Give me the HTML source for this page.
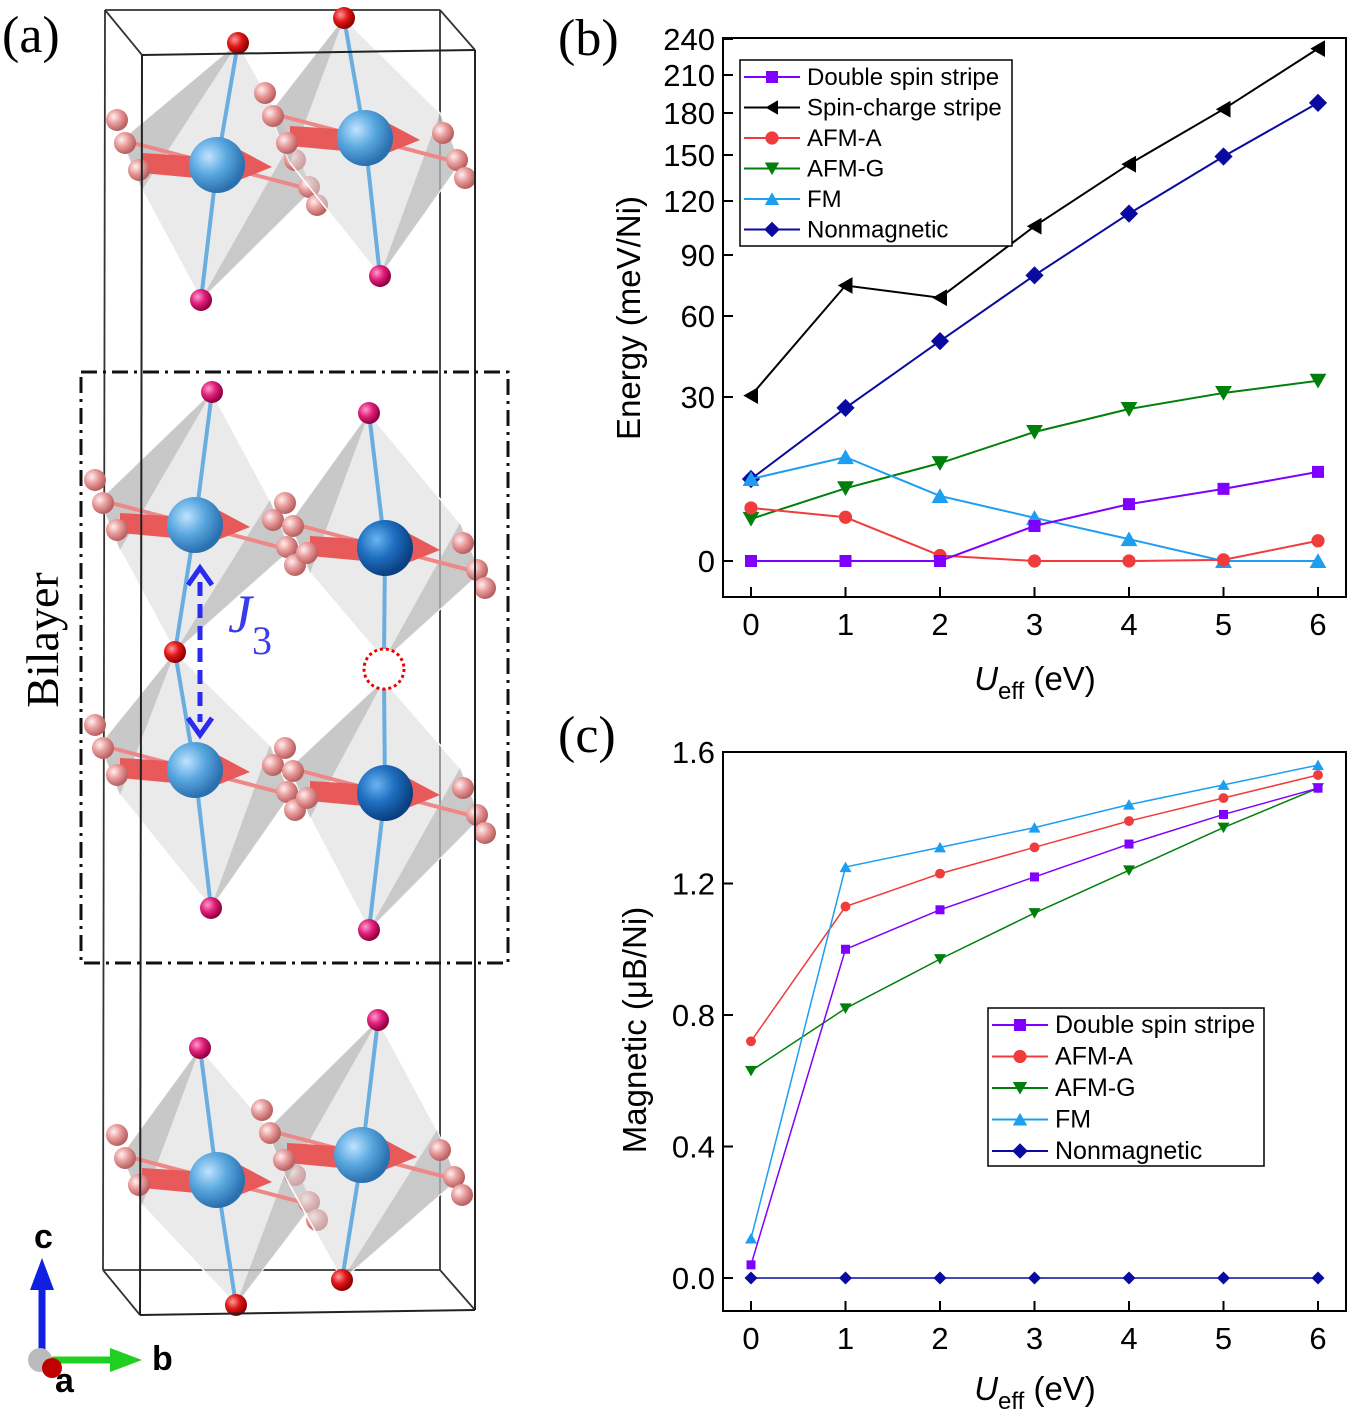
<!DOCTYPE html>
<html><head><meta charset="utf-8">
<style>
html,body{margin:0;padding:0;background:#fff;}
svg{display:block;font-family:"Liberation Sans",Arial,sans-serif;}
</style></head>
<body>
<svg id="fig" width="1348" height="1411" viewBox="0 0 1348 1411" xmlns="http://www.w3.org/2000/svg">
<defs>
<radialGradient id="blueBall" cx="35%" cy="35%" r="65%"><stop offset="0" stop-color="#bfe3ff"/><stop offset="0.5" stop-color="#5aa8e0"/><stop offset="1" stop-color="#2a6fae"/></radialGradient>
<radialGradient id="darkBall" cx="35%" cy="35%" r="65%"><stop offset="0" stop-color="#6ab4f0"/><stop offset="0.5" stop-color="#1f6fc0"/><stop offset="1" stop-color="#0b3f80"/></radialGradient>
<radialGradient id="pinkBall" cx="35%" cy="35%" r="65%"><stop offset="0" stop-color="#fff0f0"/><stop offset="0.5" stop-color="#e89a9a"/><stop offset="1" stop-color="#b86060"/></radialGradient>
<radialGradient id="magBall" cx="35%" cy="35%" r="65%"><stop offset="0" stop-color="#ff9ad0"/><stop offset="0.5" stop-color="#e0207a"/><stop offset="1" stop-color="#900040"/></radialGradient>
<radialGradient id="redBall" cx="35%" cy="35%" r="65%"><stop offset="0" stop-color="#ff9a9a"/><stop offset="0.5" stop-color="#e01818"/><stop offset="1" stop-color="#900000"/></radialGradient>
</defs>
<g id="panelA"></g>
<g id="panelB"></g>
<g id="panelC"></g>
</svg>
<script>
// ===== Chart data =====
const xCats = [0,1,2,3,4,5,6];
const energyYTicks = [0,30,60,90,120,150,180,210,240];
const energyDSS = [0,0,0,6.4,10.4,13.2,16.3];
const energySCS = [30.5,75,69,106,144,183,232];
const energyAFMA = [9.7,8,1,0,0,0.2,3.7];
const energyAFMG = [7.7,13.3,17.9,23.6,27.8,31.5,36];
const energyFM = [15,19,11.9,7.9,4,0,0];
const energyNM = [15,28,50.7,80,113,149,188];
const magYTicks = [0.0,0.4,0.8,1.2,1.6];
const magYTickLabels = ["0.0","0.4","0.8","1.2","1.6"];
const magDSS = [0.04,1.0,1.12,1.22,1.32,1.41,1.49];
const magAFMA = [0.72,1.13,1.23,1.31,1.39,1.46,1.53];
const magAFMG = [0.63,0.82,0.97,1.11,1.24,1.37,1.49];
const magFM = [0.12,1.25,1.31,1.37,1.44,1.50,1.56];
const magNM = [0,0,0,0,0,0,0];

const NS="http://www.w3.org/2000/svg";
function mk(parent,tag,attrs,text){const e=document.createElementNS(NS,tag);for(const k in attrs)e.setAttribute(k,attrs[k]);if(text!==undefined)e.textContent=text;parent.appendChild(e);return e;}

const COL={dss:"#8000ff",scs:"#000000",afma:"#f03c3c",afmg:"#00800a",fm:"#1e9ef0",nm:"#0a0aa0"};

function xB(v){return 751+v*(1318-751)/6;}
const ePix=[561,397,316,255,201,155,113,75,39];
function yB(v){for(let i=0;i<energyYTicks.length-1;i++){const a=energyYTicks[i],b=energyYTicks[i+1];if(v<=b||i===energyYTicks.length-2){return ePix[i]+(v-a)/(b-a)*(ePix[i+1]-ePix[i]);}}}
function yC(v){return 1278-v*(1278-752)/1.6;}

function marker(g,type,x,y,c,s){
  let e;
  if(type==="sq") e=mk(g,"rect",{x:x-s,y:y-s,width:2*s,height:2*s,fill:c});
  else if(type==="ci") e=mk(g,"circle",{cx:x,cy:y,r:s*1.1,fill:c});
  else if(type==="dn") e=mk(g,"polygon",{points:`${x-s*1.2},${y-s} ${x+s*1.2},${y-s} ${x},${y+s*1.1}`,fill:c});
  else if(type==="up") e=mk(g,"polygon",{points:`${x-s*1.2},${y+s} ${x+s*1.2},${y+s} ${x},${y-s*1.1}`,fill:c});
  else if(type==="lt") e=mk(g,"polygon",{points:`${x+s},${y-s*1.2} ${x+s},${y+s*1.2} ${x-s*1.1},${y}`,fill:c});
  else if(type==="di") e=mk(g,"polygon",{points:`${x},${y-s*1.3} ${x+s*1.3},${y} ${x},${y+s*1.3} ${x-s*1.3},${y}`,fill:c});
  return e;
}

function series(g,name,vals,xf,yf,c,type,s,w){
  const sg=mk(g,"g",{});
  
  
  const pts=vals.map((v,i)=>xf(xCats[i])+","+yf(v)).join(" ");
  mk(sg,"polyline",{points:pts,fill:"none",stroke:c,"stroke-width":w});
  vals.forEach((v,i)=>{const m=marker(sg,type,xf(xCats[i]),yf(v),c,s);
    
    });
}

function legend(g,x,y,w,h,items,rowH,fs){
  const lg=mk(g,"g",{});
  
  
  mk(lg,"rect",{x:x,y:y,width:w,height:h,fill:"#fff",stroke:"#000","stroke-width":1.5});
  items.forEach((it,i)=>{
    const cy=y+17+i*rowH;
    const eg=mk(lg,"g",{});
    
    
    mk(eg,"line",{x1:x+4,y1:cy,x2:x+60,y2:cy,stroke:it[1],"stroke-width":2});
    marker(eg,it[2],x+32,cy,it[1],6);
    mk(eg,"text",{x:x+67,y:cy+8,"font-size":fs,fill:"#000"},it[0]);
  });
}

// ===== Panel B =====
(function(){
  const g=document.getElementById("panelB");
  const L=723,R=1346,T=38,B=597;
  const f=mk(g,"rect",{x:L,y:T,width:R-L,height:B-T,fill:"none",stroke:"#000","stroke-width":2});
   
  energyYTicks.forEach(t=>{const y=yB(t);mk(g,"line",{x1:L,y1:y,x2:L+10,y2:y,stroke:"#000","stroke-width":2});
    const tx=mk(g,"text",{x:L-8,y:y+11,"font-size":31,"text-anchor":"end"},String(t));
     });
  xCats.forEach(t=>{const x=xB(t);mk(g,"line",{x1:x,y1:B,x2:x,y2:B-10,stroke:"#000","stroke-width":2});
    const tx=mk(g,"text",{x:x,y:B+38,"font-size":31,"text-anchor":"middle"},String(t));
     });
  const yt=mk(g,"text",{x:0,y:0,"font-size":33,"text-anchor":"middle",transform:"translate(640,318) rotate(-90)"},"Energy (meV/Ni)");
   
  const xt=mk(g,"text",{x:1035,y:690,"font-size":33,"text-anchor":"middle"});
   
  xt.innerHTML='<tspan font-style="italic">U</tspan><tspan font-size="24" dy="9">eff</tspan><tspan dy="-9"> (eV)</tspan>';
  series(g,"series-spin-charge-stripe",energySCS,xB,yB,COL.scs,"lt",7,2);
  series(g,"series-nonmagnetic",energyNM,xB,yB,COL.nm,"di",7,2);
  series(g,"series-afm-g",energyAFMG,xB,yB,COL.afmg,"dn",7,2);
  series(g,"series-fm",energyFM,xB,yB,COL.fm,"up",7,2);
  series(g,"series-afm-a",energyAFMA,xB,yB,COL.afma,"ci",6,2);
  series(g,"series-double-spin-stripe",energyDSS,xB,yB,COL.dss,"sq",6,2);
  legend(g,740,60,272,186,[["Double spin stripe",COL.dss,"sq"],["Spin-charge stripe",COL.scs,"lt"],["AFM-A",COL.afma,"ci"],["AFM-G",COL.afmg,"dn"],["FM",COL.fm,"up"],["Nonmagnetic",COL.nm,"di"]],30.5,24);
  const lb=mk(g,"text",{x:558,y:55,"font-size":52,"font-family":"Liberation Serif, serif"},"(b)");
   
})();

// ===== Panel C =====
(function(){
  const g=document.getElementById("panelC");
  const L=723,R=1346,T=752,B=1311;
  const f=mk(g,"rect",{x:L,y:T,width:R-L,height:B-T,fill:"none",stroke:"#000","stroke-width":2});
   
  magYTicks.forEach((t,i)=>{const y=yC(t);mk(g,"line",{x1:L,y1:y,x2:L+10,y2:y,stroke:"#000","stroke-width":2});
    const tx=mk(g,"text",{x:L-8,y:y+11,"font-size":31,"text-anchor":"end"},magYTickLabels[i]);
     });
  xCats.forEach(t=>{const x=xB(t);mk(g,"line",{x1:x,y1:B,x2:x,y2:B-10,stroke:"#000","stroke-width":2});
    const tx=mk(g,"text",{x:x,y:B+38,"font-size":31,"text-anchor":"middle"},String(t));
     });
  const yt=mk(g,"text",{x:0,y:0,"font-size":33,"text-anchor":"middle",transform:"translate(646,1030) rotate(-90)"},"Magnetic (\u03bcB/Ni)");
   
  const xt=mk(g,"text",{x:1035,y:1400,"font-size":33,"text-anchor":"middle"});
   
  xt.innerHTML='<tspan font-style="italic">U</tspan><tspan font-size="24" dy="9">eff</tspan><tspan dy="-9"> (eV)</tspan>';
  series(g,"series-afm-g",magAFMG,xB,yC,COL.afmg,"dn",5,1.5);
  series(g,"series-double-spin-stripe",magDSS,xB,yC,COL.dss,"sq",4.5,1.5);
  series(g,"series-afm-a",magAFMA,xB,yC,COL.afma,"ci",4.5,1.5);
  series(g,"series-fm",magFM,xB,yC,COL.fm,"up",5,1.5);
  series(g,"series-nonmagnetic",magNM,xB,yC,COL.nm,"di",5,1.5);
  legend(g,988,1008,276,158,[["Double spin stripe",COL.dss,"sq"],["AFM-A",COL.afma,"ci"],["AFM-G",COL.afmg,"dn"],["FM",COL.fm,"up"],["Nonmagnetic",COL.nm,"di"]],31.5,25);
  const lb=mk(g,"text",{x:558,y:752,"font-size":52,"font-family":"Liberation Serif, serif"},"(c)");
   
})();

// ===== Panel A (structure illustration) =====
(function(){
  const g=document.getElementById("panelA");
  const ln=(x1,y1,x2,y2,w,c)=>mk(g,"line",{x1,y1,x2,y2,stroke:c||"#222","stroke-width":w||2});
  [[105,10,440,10],[105,10,103,1270],[440,10,440,1270],[103,1270,440,1270],
   [105,10,142,55],[440,10,475,50],[103,1270,140,1315],[440,1270,475,1310]].forEach(l=>ln(...l,1.8,"#333"));
  function octa(cx,cy,tx,topY,bx,botY,topC,botC,dark,showTop,showBot){
    const og=mk(g,"g",{});
    
    
    const eq=[[cx-95,cy-25],[cx-75,cy+25],[cx+95,cy+25],[cx+75,cy-25]];
    mk(og,"polygon",{points:`${tx},${topY} ${eq[0]} ${eq[1]} ${bx},${botY} ${eq[2]} ${eq[3]}`,fill:"#d8d8d8","fill-opacity":0.55,stroke:"#fff","stroke-width":1.5});
    mk(og,"polygon",{points:`${tx},${topY} ${eq[0]} ${eq[1]}`,fill:"#b0b0b0","fill-opacity":0.6});
    mk(og,"polygon",{points:`${bx},${botY} ${eq[2]} ${eq[3]}`,fill:"#a8a8a8","fill-opacity":0.5});
    mk(og,"line",{x1:tx,y1:topY,x2:cx,y2:cy,stroke:"#6aaee0","stroke-width":4});
    mk(og,"line",{x1:cx,y1:cy,x2:bx,y2:botY,stroke:"#6aaee0","stroke-width":4});
    mk(og,"line",{x1:eq[0][0],y1:eq[0][1],x2:eq[2][0],y2:eq[2][1],stroke:"#e88","stroke-width":4});
    mk(og,"polygon",{points:`${cx-75},${cy-12} ${cx-10},${cy-8} ${cx-10},${cy+14} ${cx-75},${cy+8}`,fill:"#e85a5a"});
    mk(og,"polygon",{points:`${cx+10},${cy-22} ${cx+55},${cy+2} ${cx+10},${cy+20}`,fill:"#e85a5a"});
    mk(og,"circle",{cx:cx,cy:cy,r:28,fill:dark?"url(#darkBall)":"url(#blueBall)"});
    if(showTop) mk(og,"circle",{cx:tx,cy:topY,r:11,fill:topC});
    if(showBot) mk(og,"circle",{cx:bx,cy:botY,r:11,fill:botC});
    [[cx-100,cy-45],[cx-92,cy-22],[cx-78,cy+5],[cx+78,cy-5],[cx+92,cy+22],[cx+100,cy+40]].forEach(p=>mk(og,"circle",{cx:p[0],cy:p[1],r:11,fill:"url(#pinkBall)"}));
  }
  octa(217,165,238,43,201,300,"url(#redBall)","url(#magBall)",false,true,true);
  octa(365,138,344,18,380,276,"url(#redBall)","url(#magBall)",false,true,true);
  octa(195,525,212,392,175,652,"url(#magBall)","url(#redBall)",false,true,false);
  octa(385,548,369,413,384,660,"url(#magBall)","url(#redBall)",true,true,false);
  octa(195,770,175,652,211,908,"url(#redBall)","url(#magBall)",false,false,true);
  octa(385,793,384,680,369,930,"url(#redBall)","url(#magBall)",true,false,true);
  octa(217,1180,200,1048,236,1305,"url(#magBall)","url(#redBall)",false,true,true);
  octa(362,1155,378,1020,342,1280,"url(#magBall)","url(#redBall)",false,true,true);
  mk(g,"circle",{cx:175,cy:652,r:11,fill:"url(#redBall)"});
  [[142,55,475,50],[142,55,140,1315],[475,50,475,1310],[140,1315,475,1310]].forEach(l=>ln(...l,2,"#222"));
  const bl=mk(g,"rect",{x:81,y:372,width:427,height:591,fill:"none",stroke:"#111","stroke-width":3,"stroke-dasharray":"16,6,3,6"});
   
  const bt=mk(g,"text",{x:0,y:0,"font-size":46,"font-family":"Liberation Serif, serif","text-anchor":"middle",transform:"translate(58,640) rotate(-90)"},"Bilayer");
   
  const ja=mk(g,"g",{});
   
  mk(ja,"line",{x1:200,y1:582,x2:200,y2:722,stroke:"#2a2af0","stroke-width":5,"stroke-dasharray":"14,8"});
  mk(ja,"polyline",{points:"188,585 200,568 212,585",fill:"none",stroke:"#2a2af0","stroke-width":5});
  mk(ja,"polyline",{points:"188,718 200,735 212,718",fill:"none",stroke:"#2a2af0","stroke-width":5});
  const jt=mk(g,"text",{x:228,y:632,"font-size":54,"font-family":"Liberation Serif, serif","font-style":"italic",fill:"#3a3af0"});
   
  jt.innerHTML='J<tspan font-size="40" dy="22" font-style="normal">3</tspan>';
  const vc=mk(g,"circle",{cx:384,cy:669,r:20,fill:"#fff",stroke:"#e00","stroke-width":3,"stroke-dasharray":"3,3"});
   
  const la=mk(g,"text",{x:2,y:52,"font-size":52,"font-family":"Liberation Serif, serif"},"(a)");
   
  const tg=mk(g,"g",{});
   
  mk(tg,"line",{x1:42,y1:1360,x2:42,y2:1285,stroke:"#1020e0","stroke-width":7});
  mk(tg,"polygon",{points:"30,1290 54,1290 42,1258",fill:"#1020e0"});
  mk(tg,"line",{x1:42,y1:1360,x2:115,y2:1360,stroke:"#20d020","stroke-width":7});
  mk(tg,"polygon",{points:"110,1348 110,1372 142,1360",fill:"#20d020"});
  mk(tg,"circle",{cx:40,cy:1360,r:12,fill:"#bbb"});
  mk(tg,"circle",{cx:52,cy:1368,r:10,fill:"#c00000"});
  mk(tg,"text",{x:34,y:1248,"font-size":34,"font-weight":"bold"},"c");
  mk(tg,"text",{x:152,y:1370,"font-size":34,"font-weight":"bold"},"b");
  mk(tg,"text",{x:55,y:1392,"font-size":34,"font-weight":"bold"},"a");
})();
</script>
</body></html>
